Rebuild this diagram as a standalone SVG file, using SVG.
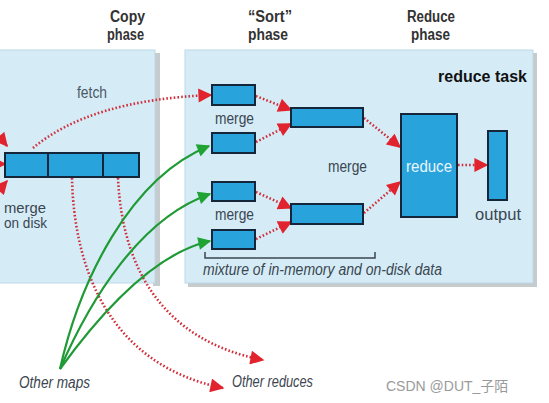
<svg xmlns="http://www.w3.org/2000/svg" width="549" height="403" viewBox="0 0 549 403">
<defs>
<style>
.panel{fill:#d5ecf7;stroke:#bcd8e6;stroke-width:1}
.shadow{fill:#8e989e;opacity:0.5}
.box{fill:#28a3dc;stroke:#15253a;stroke-width:2}
.red{fill:none;stroke:#cf2f3b;stroke-width:2.6;stroke-dasharray:1.6 2.1}
.green{fill:none;stroke:#1f9a35;stroke-width:2.2}
.t{font-family:"Liberation Sans",sans-serif;fill:#3b4650;font-size:16px}
.h{font-family:"Liberation Sans",sans-serif;fill:#333;font-size:16px;font-weight:bold}
.i{font-style:italic}
</style>
<marker id="ar" viewBox="0 0 10 10" refX="9" refY="5" markerWidth="15" markerHeight="14" orient="auto" markerUnits="userSpaceOnUse">
<path d="M0,0 L10,5 L0,10 z" fill="#e0232c"/>
</marker>
<marker id="ag" viewBox="0 0 10 10" refX="9" refY="5" markerWidth="14" markerHeight="13" orient="auto" markerUnits="userSpaceOnUse">
<path d="M0,0 L10,5 L0,10 z" fill="#1fa332"/>
</marker>
</defs>
<rect width="549" height="403" fill="#ffffff"/>
<g id="headings">
<text class="h" x="110" y="22" textLength="35" lengthAdjust="spacingAndGlyphs">Copy</text>
<text class="h" x="107" y="40" textLength="37" lengthAdjust="spacingAndGlyphs">phase</text>
<text class="h" x="248" y="22" textLength="44" lengthAdjust="spacingAndGlyphs">“Sort”</text>
<text class="h" x="248" y="40" textLength="40" lengthAdjust="spacingAndGlyphs">phase</text>
<text class="h" x="407" y="22" textLength="48" lengthAdjust="spacingAndGlyphs">Reduce</text>
<text class="h" x="411" y="40" textLength="39" lengthAdjust="spacingAndGlyphs">phase</text>
</g>
<g id="copy-panel">
<rect class="shadow" x="153" y="53" width="7" height="233"/>
<rect class="panel" x="-2" y="50" width="157" height="233"/>
</g>
<g id="reduce-panel">
<rect class="shadow" x="188" y="53" width="349" height="234"/>
<rect class="panel" x="185" y="50" width="348" height="233"/>
<text class="h" x="438" y="82" textLength="89" lengthAdjust="spacingAndGlyphs" style="fill:#111;font-size:17px">reduce task</text>
</g>
<g id="connectors">
<path class="red" d="M33,148 Q90,100 211,95" marker-end="url(#ar)"/>
<path class="red" d="M-8,128 L7,146" marker-end="url(#ar)"/>
<path class="red" d="M-8,164 L5,164" marker-end="url(#ar)"/>
<path class="red" d="M-8,198 L7,181" marker-end="url(#ar)"/>
<path class="red" d="M72,178 C74,270 110,365 223,388" marker-end="url(#ar)"/>
<path class="red" d="M118,178 C122,265 160,340 263,360" marker-end="url(#ar)"/>
<path class="green" d="M60,369 C80,280 130,178 209,146" marker-end="url(#ag)"/>
<path class="green" d="M60,369 C90,300 140,218 210,194" marker-end="url(#ag)"/>
<path class="green" d="M60,369 C110,300 160,252 210,241" marker-end="url(#ag)"/>
<path class="red" d="M256,96 L291,110" marker-end="url(#ar)"/>
<path class="red" d="M256,142 L291,124" marker-end="url(#ar)"/>
<path class="red" d="M256,192 L291,208" marker-end="url(#ar)"/>
<path class="red" d="M256,239 L291,222" marker-end="url(#ar)"/>
<path class="red" d="M364,118 L400,147" marker-end="url(#ar)"/>
<path class="red" d="M364,213 L400,182" marker-end="url(#ar)"/>
<path class="red" d="M458,165 L487,165" marker-end="url(#ar)"/>
<path d="M205,252 L205,258 L375,258 L375,252" fill="none" stroke="#3b4650" stroke-width="1.5"/>
</g>
<g id="merge-on-disk">
<rect class="box" x="5" y="153" width="134" height="24"/>
<line x1="48" y1="153" x2="48" y2="177" stroke="#15253a" stroke-width="2"/>
<line x1="103" y1="153" x2="103" y2="177" stroke="#15253a" stroke-width="2"/>
<text class="t" x="4" y="213" textLength="42" lengthAdjust="spacingAndGlyphs" style="font-size:14px">merge</text>
<text class="t" x="4" y="228" textLength="43" lengthAdjust="spacingAndGlyphs" style="font-size:14px">on disk</text>
</g>
<text class="t" x="77" y="98" textLength="30" lengthAdjust="spacingAndGlyphs" style="fill:#4a5866">fetch</text>
<g id="sort-boxes">
<rect class="box" x="212" y="85" width="43" height="20"/>
<rect class="box" x="212" y="133" width="43" height="20"/>
<rect class="box" x="212" y="182" width="43" height="19"/>
<rect class="box" x="212" y="230" width="43" height="19"/>
<text class="t" x="215" y="124" textLength="39" lengthAdjust="spacingAndGlyphs">merge</text>
<text class="t" x="215" y="220" textLength="39" lengthAdjust="spacingAndGlyphs">merge</text>
</g>
<g id="merged-bars">
<rect class="box" x="291" y="108" width="72" height="19"/>
<rect class="box" x="291" y="204" width="72" height="20"/>
<text class="t" x="328" y="172" textLength="39" lengthAdjust="spacingAndGlyphs">merge</text>
</g>
<g id="reduce">
<rect class="box" x="401" y="114" width="56" height="103"/>
<text class="t" x="406" y="172" textLength="46" lengthAdjust="spacingAndGlyphs" style="fill:#eaf6fc">reduce</text>
</g>
<g id="output">
<rect class="box" x="488" y="131" width="19" height="69"/>
<text class="t" x="475" y="220" textLength="46" lengthAdjust="spacingAndGlyphs">output</text>
</g>
<text class="t i" x="203" y="275" textLength="239" lengthAdjust="spacingAndGlyphs">mixture of in-memory and on-disk data</text>
<text class="t i" x="19" y="388" textLength="71" lengthAdjust="spacingAndGlyphs">Other maps</text>
<text class="t i" x="232" y="387" textLength="81" lengthAdjust="spacingAndGlyphs">Other reduces</text>
<text x="386" y="391" style="font-family:'Liberation Sans','Noto Sans CJK SC',sans-serif;font-size:14px;fill:#9a9a9a">CSDN @DUT_子陌</text>
</svg>
